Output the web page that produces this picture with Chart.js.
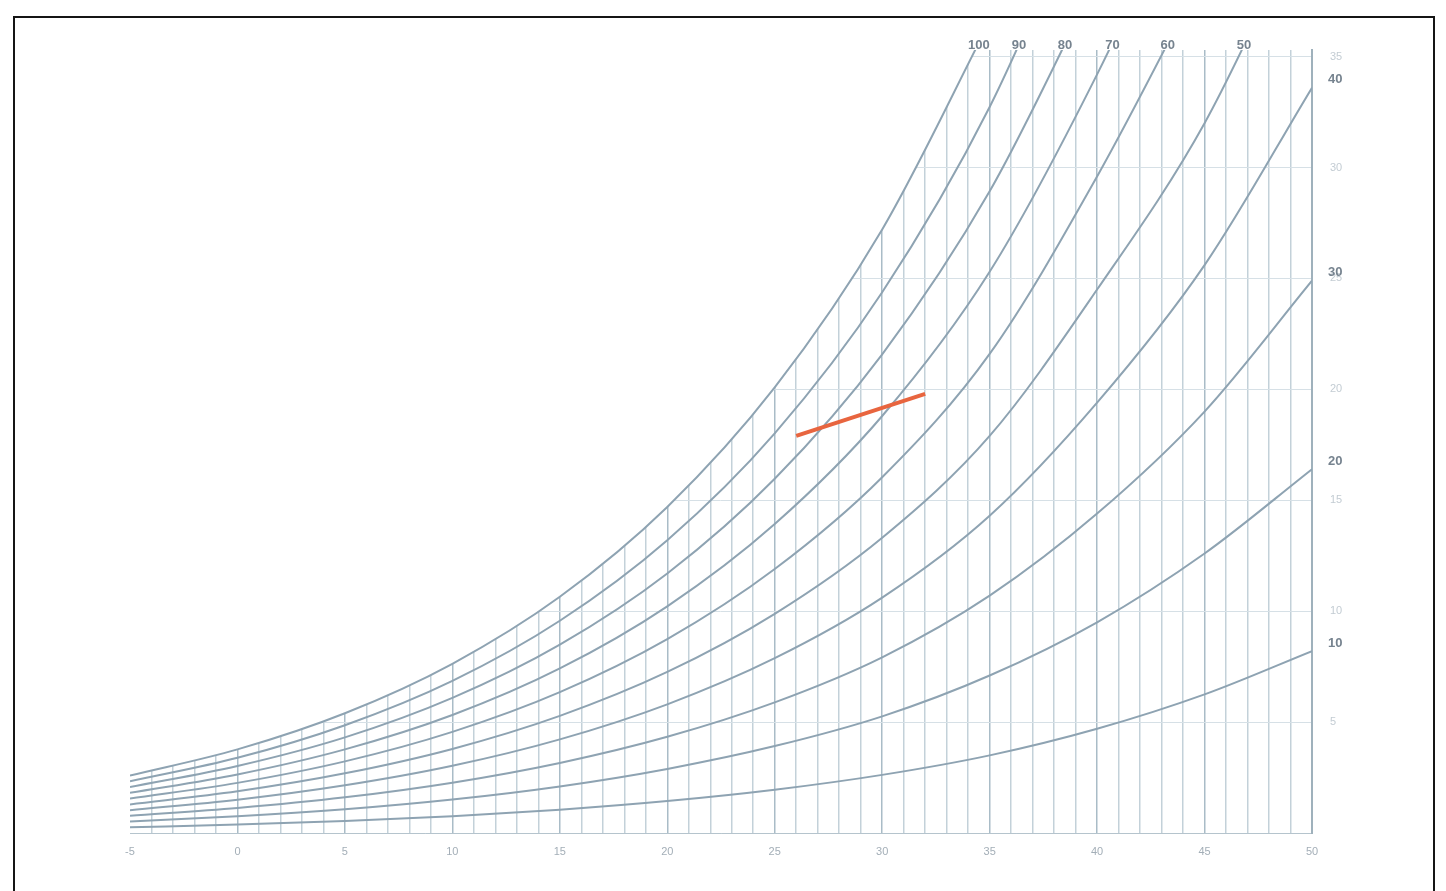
<!DOCTYPE html>
<html>
<head>
<meta charset="utf-8">
<script src="https://cdn.jsdelivr.net/npm/chart.js@4.4.1/dist/chart.umd.min.js"></script>
<style>
  html, body { margin: 0; padding: 0; background: #fff; overflow: hidden; }
  #wrap { position: absolute; left: 0; top: 0; width: 1446px; height: 891px; }
  #frame { position: absolute; left: 13px; top: 16px; width: 1418px; height: 890px;
           border: 2px solid #151515; border-bottom: none; pointer-events: none; }
</style>
</head>
<body>
<div id="wrap"><canvas id="psyChart" width="1446" height="891"></canvas></div>
<div id="frame"></div>
<script>
// dry bulb temperature (°C) where the curves were read
const temps = [-5, 0, 5, 10, 15, 20, 25, 30, 35, 40, 45, 50];
// tick labels
const tempTicks = [-5, 0, 5, 10, 15, 20, 25, 30, 35, 40, 45, 50];
const humTicks = [0, 5, 10, 15, 20, 25, 30, 35];

// humidity ratio (g/kg) along each relative humidity curve
const rhLevels = [100, 90, 80, 70, 60, 50, 40, 30, 20, 10];
const rh100 = [2.59, 3.77, 5.40, 7.63, 10.65, 14.70, 20.09, 27.21, 36.58];
const rh90 = [2.33, 3.39, 4.86, 6.86, 9.57, 13.20, 18.02, 24.38, 32.73, 43.66];
const rh80 = [2.07, 3.02, 4.31, 6.09, 8.49, 11.70, 15.97, 21.58, 28.93, 38.51];
const rh70 = [1.81, 2.64, 3.77, 5.32, 7.42, 10.22, 13.93, 18.80, 25.30, 34.20, 44.60];
const rh60 = [1.55, 2.26, 3.23, 4.56, 6.35, 8.74, 11.90, 16.04, 21.60, 29.60, 38.80];
const rh50 = [1.29, 1.88, 2.69, 3.79, 5.28, 7.26, 9.88, 13.31, 17.90, 24.50, 32.00, 42.00];
const rh40 = [1.03, 1.50, 2.15, 3.03, 4.22, 5.80, 7.88, 10.61, 14.30, 19.40, 25.60, 33.60];
const rh30 = [0.78, 1.13, 1.61, 2.27, 3.16, 4.34, 5.89, 7.92, 10.70, 14.40, 19.00, 24.90];
const rh20 = [0.52, 0.75, 1.07, 1.51, 2.10, 2.89, 3.92, 5.26, 7.10, 9.50, 12.60, 16.40];
const rh10 = [0.26, 0.38, 0.54, 0.75, 1.05, 1.44, 1.95, 2.62, 3.50, 4.70, 6.25, 8.20];
const rhSeries = [rh100, rh90, rh80, rh70, rh60, rh50, rh40, rh30, rh20, rh10];

// process line (red)
const procTemp = [26.0, 32.0];
const procHum = [17.9, 19.8];

const yTop = 35.3;

const toPoints = (xs, ys) => ys.map((v, i) => ({ x: xs[i], y: v }));

const datasets = rhSeries.map((vals, k) => ({
  label: rhLevels[k] + '%',
  data: toPoints(temps, vals),
  borderColor: '#8ea3b2',
  borderWidth: 2,
  pointRadius: 0,
  showLine: true,
  cubicInterpolationMode: 'monotone',
  // saturation curve hides the grid above it
  fill: k === 0 ? 'end' : false,
  backgroundColor: k === 0 ? '#ffffff' : 'transparent'
}));
datasets.unshift({
  label: 'process',
  data: toPoints(procTemp, procHum),
  borderColor: '#e8653f',
  borderWidth: 4,
  pointRadius: 0,
  showLine: true,
  fill: false
});

// RH labels: along the top edge or at the right end of each curve
const curveLabels = {
  id: 'curveLabels',
  afterDatasetsDraw(chart) {
    const { ctx, chartArea, scales: { x, y } } = chart;
    ctx.save();
    ctx.font = 'bold 13px "Liberation Sans", Arial, sans-serif';
    ctx.fillStyle = '#76838f';
    ctx.textBaseline = 'middle';
    rhSeries.forEach((vals, k) => {
      const last = vals[vals.length - 1];
      if (last > yTop) {
        const i = vals.findIndex(v => v > yTop);
        const t = temps[i - 1] + (temps[i] - temps[i - 1]) * (yTop - vals[i - 1]) / (vals[i] - vals[i - 1]);
        ctx.textAlign = 'center';
        ctx.fillText(String(rhLevels[k]), x.getPixelForValue(t) + 4, chartArea.top - 5);
      } else {
        ctx.textAlign = 'left';
        ctx.fillText(String(rhLevels[k]), chartArea.right + 16, y.getPixelForValue(last) - 8);
      }
    });
    ctx.restore();
  }
};

new Chart(document.getElementById('psyChart'), {
  type: 'scatter',
  data: { datasets },
  options: {
    responsive: false,
    animation: false,
    devicePixelRatio: 1,
    layout: { padding: { left: 130, top: 50, right: 0, bottom: 0 } },
    plugins: { legend: { display: false }, tooltip: { enabled: false } },
    scales: {
      x: {
        type: 'linear',
        min: tempTicks[0],
        max: tempTicks[tempTicks.length - 1],
        afterBuildTicks(scale) {
          const ticks = [];
          for (let t = scale.min; t <= scale.max; t++) ticks.push({ value: t });
          scale.ticks = ticks;
        },
        afterFit(scale) { scale.height = 58; },
        grid: {
          color: c => {
            const v = c.tick && c.tick.value;
            if (v === tempTicks[0]) return 'rgba(0,0,0,0)';
            return tempTicks.includes(v) ? '#a9bcc7' : '#c3d1d9';
          },
          lineWidth: 1.5,
          drawTicks: false
        },
        border: { color: '#b5c4cd', width: 1 },
        ticks: {
          autoSkip: false,
          maxRotation: 0,
          padding: 12,
          color: '#a3aeb7',
          font: { size: 11, family: '"Liberation Sans", Arial, sans-serif' },
          callback: v => (tempTicks.includes(v) ? String(v) : '')
        }
      },
      y: {
        type: 'linear',
        position: 'right',
        min: 0,
        max: yTop,
        afterBuildTicks(scale) { scale.ticks = humTicks.map(v => ({ value: v })); },
        afterFit(scale) { scale.width = 134; },
        grid: { color: '#d6e0e6', lineWidth: 1, drawTicks: false },
        border: { color: '#9fb1bc', width: 2 },
        ticks: {
          padding: 18,
          color: '#c3ccd3',
          font: { size: 11, family: '"Liberation Sans", Arial, sans-serif' },
          callback: v => (v === 0 ? '' : String(v))
        }
      }
    }
  },
  plugins: [curveLabels]
});
</script>
</body>
</html>
